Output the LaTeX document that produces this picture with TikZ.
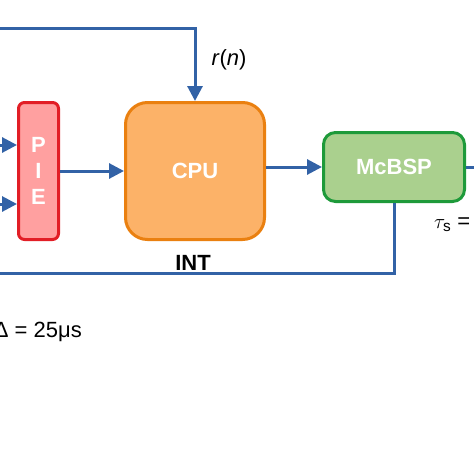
\documentclass[tikz,border=0pt]{standalone}
\usepackage{amsmath}
\usepackage{fontspec}
\setmainfont{Liberation Sans}
\usetikzlibrary{arrows.meta}
\definecolor{linkblue}{RGB}{50,98,166}
\definecolor{pieline}{RGB}{226,30,38}
\definecolor{piefill}{RGB}{255,160,160}
\definecolor{cpuline}{RGB}{234,128,16}
\definecolor{cpufill}{RGB}{252,178,104}
\definecolor{spline}{RGB}{30,154,58}
\definecolor{spfill}{RGB}{170,208,142}
\begin{document}
\begin{tikzpicture}[x=1pt,y=-1pt,>={Triangle[length=15pt,width=15pt]},
    link/.style={draw=linkblue,line width=3pt},
    block/.style={line width=3pt,rounded corners=#1,inner sep=0pt,text=white,align=center,font=\fontsize{22}{26}\selectfont\bfseries},
    label text/.style={font=\fontsize{22}{26}\selectfont}]
  \clip (0,0) rectangle (474,474);
  \useasboundingbox (0,0) rectangle (474,474);
  % blocks
  \node[block=6pt,draw=pieline,fill=piefill,minimum width=40pt,minimum height=137pt] (pie) at (38.5,171) {P\\I\\E};
  \node[block=22pt,draw=cpuline,fill=cpufill,minimum width=139pt,minimum height=137pt] (cpu) at (195,171) {CPU};
  \node[block=12pt,draw=spline,fill=spfill,minimum width=141pt,minimum height=69pt] (mcbsp) at (394,167) {McBSP};
  % labels
  \node[label text] (rn) at (229,60) {\textit{r}(\textit{n})};
  \node[label text,font=\fontsize{22}{26}\selectfont\bfseries] (int) at (193,262.5) {INT};
  \node[label text,anchor=base west,inner sep=0pt] (taus) at (434,228) {$\tau_{\text{s}}$ =};
  \node[label text,anchor=base east,inner sep=0pt] (delta) at (82,337) {Δ = 25μs};
  % free ends
  \coordinate (topleft) at (0,28);
  \coordinate (in1) at (0,145);
  \coordinate (in2) at (0,204);
  \coordinate (spout) at (474,167);
  \coordinate (fback) at (0,273);
  % connectors
  \draw[link,->] (topleft) -| (cpu.north);
  \draw[link,->] (in1) -- (in1 -| pie.west);
  \draw[link,->] (in2) -- (in2 -| pie.west);
  \draw[link,->] (pie.east) -- (cpu.west);
  \draw[link,->] (cpu.east |- mcbsp.west) -- (mcbsp.west);
  \draw[link] (mcbsp.east) -- (spout);
  \draw[link] (mcbsp.south) |- (fback);
\end{tikzpicture}
\end{document}
